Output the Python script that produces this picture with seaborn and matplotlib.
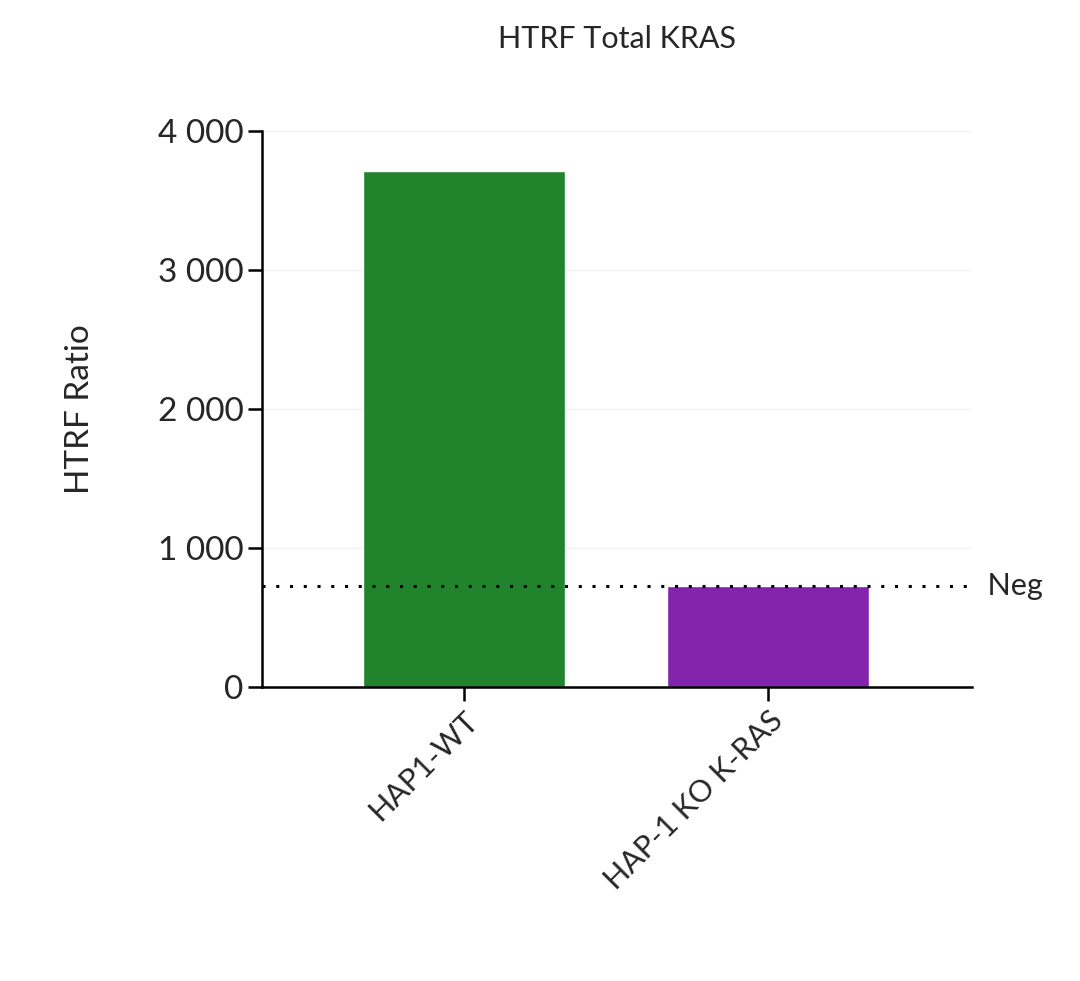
import seaborn as sns
import matplotlib.pyplot as plt
import pandas as pd

groups = ['HAP1-WT', 'HAP-1 KO K-RAS']
ratios = [3710, 730]
bar_colors = ['#21842c', '#8424ad']
neg_value = 730
yticks = [0, 1000, 2000, 3000, 4000]

sns.set_theme(style='white')
plt.rcParams['font.family'] = ['Lato', 'DejaVu Sans']

df = pd.DataFrame({'group': groups, 'ratio': ratios})

fig = plt.figure(figsize=(10.8, 9.81), dpi=100)
ax = fig.add_axes([0.2426, 0.2997, 0.6574, 0.5668])
sns.barplot(data=df, x='group', y='ratio', hue='group', palette=bar_colors,
            width=0.664, saturation=1, legend=False, ax=ax)
ax.set_xlim(-0.664, 1.671)
ax.set_ylim(0, 4000)
ax.set_yticks(yticks)
ax.set_yticklabels([f'{v:,}'.replace(',', ' ') for v in yticks], fontsize=24)
for v in yticks[1:]:
    ax.axhline(v, color='#f2f2f2', lw=1, zorder=0)
ax.axhline(neg_value, color='black', lw=2.2, ls=(0, (1, 3.5)), zorder=3)
ax.text(1.0, neg_value, '  Neg', transform=ax.get_yaxis_transform(),
        va='center', ha='left', fontsize=22)
ax.set_xticks(range(len(groups)))
ax.set_xticklabels(groups, rotation=45, ha='right', rotation_mode='anchor', fontsize=22)
ax.set_xlabel('')
ax.set_ylabel('HTRF Ratio', fontsize=24, labelpad=45)
ax.set_title('HTRF Total KRAS', fontsize=22, pad=60)
for s in ['top', 'right']:
    ax.spines[s].set_visible(False)
for s in ['left', 'bottom']:
    ax.spines[s].set_color('black')
    ax.spines[s].set_linewidth(1.8)
ax.tick_params(axis='both', direction='out', length=10, width=1.8, color='black',
               bottom=True, left=True)
fig.savefig('out.png', dpi=100)
